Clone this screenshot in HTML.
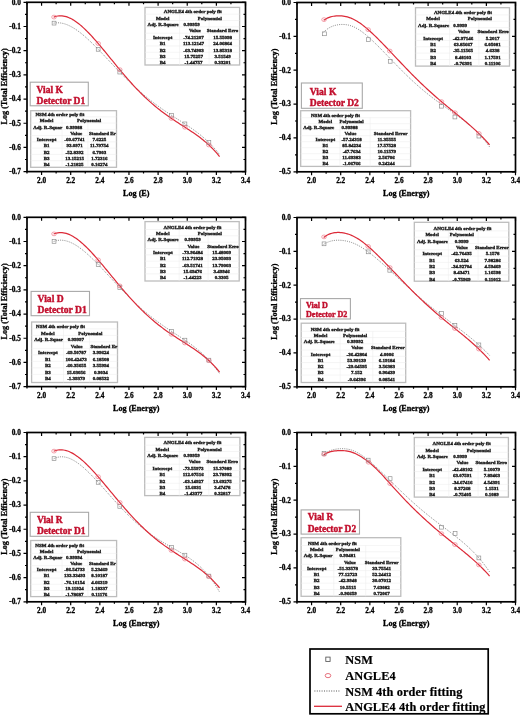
<!DOCTYPE html>
<html><head><meta charset="utf-8"><style>html,body{margin:0;padding:0;background:#fff;}svg{display:block;filter:blur(0.3px);}</style></head>
<body><svg width="520" height="715" viewBox="0 0 520 715" font-family="'Liberation Serif', 'Times New Roman', serif" font-weight="bold">
<rect width="520" height="715" fill="#fff"/>
<text x="136.25" y="196.10" font-size="8.2" text-anchor="middle" stroke="#000" stroke-width="0.3">Log (E)</text>
<text transform="translate(7.10,86.45) rotate(-90)" x="0" y="0" font-size="8.2" text-anchor="middle" stroke="#000" stroke-width="0.3">Log (Total Efficiency)</text>
<g font-size="7.3" stroke="#000" stroke-width="0.28"><text x="41.57" y="182.50" text-anchor="middle">2.0</text><text x="70.70" y="182.50" text-anchor="middle">2.2</text><text x="99.83" y="182.50" text-anchor="middle">2.4</text><text x="128.97" y="182.50" text-anchor="middle">2.6</text><text x="158.10" y="182.50" text-anchor="middle">2.8</text><text x="187.23" y="182.50" text-anchor="middle">3.0</text><text x="216.37" y="182.50" text-anchor="middle">3.2</text><text x="245.50" y="182.50" text-anchor="middle">3.4</text><text x="20.80" y="4.70" text-anchor="end">0.0</text><text x="20.80" y="28.89" text-anchor="end">-0.1</text><text x="20.80" y="53.07" text-anchor="end">-0.2</text><text x="20.80" y="77.26" text-anchor="end">-0.3</text><text x="20.80" y="101.44" text-anchor="end">-0.4</text><text x="20.80" y="125.63" text-anchor="end">-0.5</text><text x="20.80" y="149.81" text-anchor="end">-0.6</text><text x="20.80" y="174.00" text-anchor="end">-0.7</text></g>
<path d="M27.00,171.60v2M27.00,2.30v2M41.57,171.60v3.5M41.57,2.30v3.5M56.13,171.60v2M56.13,2.30v2M70.70,171.60v3.5M70.70,2.30v3.5M85.27,171.60v2M85.27,2.30v2M99.83,171.60v3.5M99.83,2.30v3.5M114.40,171.60v2M114.40,2.30v2M128.97,171.60v3.5M128.97,2.30v3.5M143.53,171.60v2M143.53,2.30v2M158.10,171.60v3.5M158.10,2.30v3.5M172.67,171.60v2M172.67,2.30v2M187.23,171.60v3.5M187.23,2.30v3.5M201.80,171.60v2M201.80,2.30v2M216.37,171.60v3.5M216.37,2.30v3.5M230.93,171.60v2M230.93,2.30v2M245.50,171.60v3.5M245.50,2.30v3.5M27.00,2.30h-3.5M245.50,2.30h-3.5M27.00,14.39h-2M245.50,14.39h-2M27.00,26.49h-3.5M245.50,26.49h-3.5M27.00,38.58h-2M245.50,38.58h-2M27.00,50.67h-3.5M245.50,50.67h-3.5M27.00,62.76h-2M245.50,62.76h-2M27.00,74.86h-3.5M245.50,74.86h-3.5M27.00,86.95h-2M245.50,86.95h-2M27.00,99.04h-3.5M245.50,99.04h-3.5M27.00,111.14h-2M245.50,111.14h-2M27.00,123.23h-3.5M245.50,123.23h-3.5M27.00,135.32h-2M245.50,135.32h-2M27.00,147.41h-3.5M245.50,147.41h-3.5M27.00,159.51h-2M245.50,159.51h-2M27.00,171.60h-3.5M245.50,171.60h-3.5" stroke="#000" stroke-width="1.2" fill="none"/>
<polyline points="53.66,23.20 55.05,22.96 56.45,22.83 57.84,22.79 59.23,22.84 60.63,22.99 62.02,23.22 63.42,23.54 64.81,23.93 66.21,24.40 67.60,24.95 68.99,25.56 70.39,26.24 71.78,26.99 73.18,27.79 74.57,28.65 75.96,29.57 77.36,30.53 78.75,31.55 80.15,32.61 81.54,33.71 82.94,34.86 84.33,36.04 85.72,37.26 87.12,38.51 88.51,39.79 89.91,41.10 91.30,42.43 92.70,43.79 94.09,45.17 95.48,46.56 96.88,47.98 98.27,49.41 99.67,50.85 101.06,52.30 102.46,53.77 103.85,55.24 105.24,56.71 106.64,58.19 108.03,59.68 109.43,61.16 110.82,62.64 112.22,64.13 113.61,65.61 115.00,67.08 116.40,68.55 117.79,70.01 119.19,71.46 120.58,72.91 121.97,74.34 123.37,75.77 124.76,77.18 126.16,78.58 127.55,79.96 128.95,81.33 130.34,82.69 131.73,84.03 133.13,85.35 134.52,86.66 135.92,87.95 137.31,89.23 138.71,90.48 140.10,91.72 141.49,92.94 142.89,94.15 144.28,95.33 145.68,96.50 147.07,97.65 148.47,98.78 149.86,99.90 151.25,100.99 152.65,102.07 154.04,103.13 155.44,104.18 156.83,105.21 158.22,106.23 159.62,107.23 161.01,108.21 162.41,109.19 163.80,110.15 165.20,111.10 166.59,112.04 167.98,112.96 169.38,113.88 170.77,114.80 172.17,115.70 173.56,116.60 174.96,117.50 176.35,118.39 177.74,119.28 179.14,120.17 180.53,121.07 181.93,121.96 183.32,122.86 184.72,123.77 186.11,124.69 187.50,125.61 188.90,126.55 190.29,127.50 191.69,128.47 193.08,129.45 194.48,130.45 195.87,131.48 197.26,132.53 198.66,133.60 200.05,134.71 201.45,135.84 202.84,137.01 204.23,138.21 205.63,139.46 207.02,140.74 208.42,142.07 209.81,143.44 211.21,144.86 212.60,146.34 213.99,147.87 215.39,149.46 216.78,151.11 218.18,152.82 219.57,154.61" fill="none" stroke="#555" stroke-width="0.7" stroke-dasharray="1,1.2"/>
<polyline points="53.66,17.21 55.05,16.68 56.45,16.28 57.84,16.01 59.23,15.85 60.63,15.80 62.02,15.87 63.42,16.04 64.81,16.31 66.21,16.69 67.60,17.15 68.99,17.70 70.39,18.34 71.78,19.06 73.18,19.86 74.57,20.73 75.96,21.68 77.36,22.69 78.75,23.76 80.15,24.89 81.54,26.08 82.94,27.32 84.33,28.61 85.72,29.95 87.12,31.33 88.51,32.75 89.91,34.21 91.30,35.70 92.70,37.23 94.09,38.78 95.48,40.36 96.88,41.96 98.27,43.59 99.67,45.23 101.06,46.89 102.46,48.56 103.85,50.25 105.24,51.94 106.64,53.64 108.03,55.35 109.43,57.06 110.82,58.77 112.22,60.48 113.61,62.19 115.00,63.90 116.40,65.59 117.79,67.29 119.19,68.97 120.58,70.64 121.97,72.30 123.37,73.95 124.76,75.59 126.16,77.21 127.55,78.81 128.95,80.40 130.34,81.96 131.73,83.51 133.13,85.04 134.52,86.55 135.92,88.04 137.31,89.51 138.71,90.95 140.10,92.37 141.49,93.77 142.89,95.15 144.28,96.50 145.68,97.83 147.07,99.14 148.47,100.42 149.86,101.68 151.25,102.91 152.65,104.12 154.04,105.31 155.44,106.48 156.83,107.62 158.22,108.74 159.62,109.84 161.01,110.92 162.41,111.98 163.80,113.02 165.20,114.05 166.59,115.05 167.98,116.04 169.38,117.02 170.77,117.98 172.17,118.92 173.56,119.86 174.96,120.78 176.35,121.70 177.74,122.61 179.14,123.51 180.53,124.41 181.93,125.31 183.32,126.20 184.72,127.10 186.11,127.99 187.50,128.90 188.90,129.81 190.29,130.73 191.69,131.66 193.08,132.60 194.48,133.56 195.87,134.53 197.26,135.53 198.66,136.55 200.05,137.60 201.45,138.67 202.84,139.78 204.23,140.92 205.63,142.10 207.02,143.31 208.42,144.57 209.81,145.87 211.21,147.23 212.60,148.63 213.99,150.10 215.39,151.62 216.78,153.20 218.18,154.85 219.57,156.57" fill="none" stroke="#dc2a38" stroke-width="1.2"/>
<rect x="52.14" y="21.22" width="3.8" height="3.8" fill="none" stroke="#8a8a8a" stroke-width="0.65"/>
<ellipse cx="54.04" cy="17.06" rx="2.3" ry="1.9" fill="none" stroke="#ec7080" stroke-width="0.65"/>
<rect x="96.27" y="47.40" width="3.8" height="3.8" fill="none" stroke="#8a8a8a" stroke-width="0.65"/>
<ellipse cx="98.17" cy="43.47" rx="2.3" ry="1.9" fill="none" stroke="#ec7080" stroke-width="0.65"/>
<rect x="117.88" y="70.17" width="3.8" height="3.8" fill="none" stroke="#8a8a8a" stroke-width="0.65"/>
<ellipse cx="119.78" cy="69.68" rx="2.3" ry="1.9" fill="none" stroke="#ec7080" stroke-width="0.65"/>
<rect x="169.53" y="113.32" width="3.8" height="3.8" fill="none" stroke="#8a8a8a" stroke-width="0.65"/>
<ellipse cx="171.43" cy="118.42" rx="2.3" ry="1.9" fill="none" stroke="#ec7080" stroke-width="0.65"/>
<rect x="183.02" y="122.00" width="3.8" height="3.8" fill="none" stroke="#8a8a8a" stroke-width="0.65"/>
<ellipse cx="184.92" cy="127.23" rx="2.3" ry="1.9" fill="none" stroke="#ec7080" stroke-width="0.65"/>
<rect x="206.98" y="140.62" width="3.8" height="3.8" fill="none" stroke="#8a8a8a" stroke-width="0.65"/>
<ellipse cx="208.88" cy="145.00" rx="2.3" ry="1.9" fill="none" stroke="#ec7080" stroke-width="0.65"/>
<rect x="27.00" y="2.30" width="218.50" height="169.30" fill="none" stroke="#000" stroke-width="1.7"/>
<g font-size="5.0" fill="#1c1c1c" stroke="#1c1c1c" stroke-width="0.36"><rect stroke-opacity="1" x="145.00" y="7.40" width="94.60" height="57.60" fill="#fff" stroke="#bdbdbd" stroke-width="1.3"/><path d="M145.00,14.18H239.60M145.00,20.52H239.60M145.00,26.87H239.60M145.00,33.23H239.60M145.00,39.58H239.60M145.00,45.92H239.60M145.00,52.27H239.60M145.00,58.62H239.60M179.60,14.18V65.00M209.10,20.52V65.00" stroke="#ececec" stroke-width="0.55" fill="none"/><text x="192.80" y="13.40" text-anchor="middle">ANGLE4 4th order poly fit</text><text x="162.70" y="19.75" text-anchor="middle">Model</text><text x="209.80" y="19.75" text-anchor="middle">Polynomial</text><text x="147.60" y="26.10" text-anchor="start">Adj. R-Square</text><text x="183.40" y="26.10" text-anchor="start">0.99959</text><text x="195.00" y="32.45" text-anchor="middle">Value</text><text x="206.80" y="32.45" text-anchor="start">Standard Erro</text><text x="162.70" y="38.80" text-anchor="middle">Intercept</text><text x="193.50" y="38.80" text-anchor="middle">-74.21207</text><text x="222.70" y="38.80" text-anchor="middle">15.55098</text><text x="162.70" y="45.15" text-anchor="middle">B1</text><text x="193.50" y="45.15" text-anchor="middle">113.12147</text><text x="222.70" y="45.15" text-anchor="middle">24.06864</text><text x="162.70" y="51.50" text-anchor="middle">B2</text><text x="193.50" y="51.50" text-anchor="middle">-63.74903</text><text x="222.70" y="51.50" text-anchor="middle">13.85318</text><text x="162.70" y="57.85" text-anchor="middle">B3</text><text x="193.50" y="57.85" text-anchor="middle">15.75257</text><text x="222.70" y="57.85" text-anchor="middle">3.51549</text><text x="162.70" y="64.20" text-anchor="middle">B4</text><text x="193.50" y="64.20" text-anchor="middle">-1.44757</text><text x="222.70" y="64.20" text-anchor="middle">0.33201</text></g>
<g font-size="5.0" fill="#1c1c1c" stroke="#1c1c1c" stroke-width="0.36"><rect stroke-opacity="1" x="30.70" y="110.70" width="85.80" height="56.60" fill="#fff" stroke="#bdbdbd" stroke-width="1.3"/><path d="M30.70,116.83H116.50M30.70,123.09H116.50M30.70,129.35H116.50M30.70,135.61H116.50M30.70,141.87H116.50M30.70,148.13H116.50M30.70,154.39H116.50M30.70,160.65H116.50M62.05,116.83V167.30M87.90,123.09V167.30" stroke="#ececec" stroke-width="0.55" fill="none"/><text x="59.90" y="116.10" text-anchor="middle">NSM 4th order poly fit</text><text x="46.60" y="122.36" text-anchor="middle">Model</text><text x="89.10" y="122.36" text-anchor="middle">Polynomial</text><text x="33.30" y="128.62" text-anchor="start">Adj. R-Squar</text><text x="66.00" y="128.62" text-anchor="start">0.99988</text><text x="76.20" y="134.88" text-anchor="middle">Value</text><text x="89.00" y="134.88" text-anchor="start">Standard Er</text><text x="46.60" y="141.14" text-anchor="middle">Intercept</text><text x="74.50" y="141.14" text-anchor="middle">-60.67741</text><text x="99.30" y="141.14" text-anchor="middle">7.6225</text><text x="46.60" y="147.40" text-anchor="middle">B1</text><text x="74.50" y="147.40" text-anchor="middle">93.0971</text><text x="99.30" y="147.40" text-anchor="middle">11.79754</text><text x="46.60" y="153.66" text-anchor="middle">B2</text><text x="74.50" y="153.66" text-anchor="middle">-52.8392</text><text x="99.30" y="153.66" text-anchor="middle">6.7903</text><text x="46.60" y="159.92" text-anchor="middle">B3</text><text x="74.50" y="159.92" text-anchor="middle">13.15215</text><text x="99.30" y="159.92" text-anchor="middle">1.72316</text><text x="46.60" y="166.18" text-anchor="middle">B4</text><text x="74.50" y="166.18" text-anchor="middle">-1.21825</text><text x="99.30" y="166.18" text-anchor="middle">0.16274</text></g>
<rect x="30.20" y="82.20" width="58.10" height="23.60" fill="#fff" stroke="#a8a8a8" stroke-width="1.1"/>
<g font-size="9.5" fill="#c2102e" stroke="#c2102e" stroke-width="0.4"><text x="36.60" y="92.90">Vial K</text><text x="36.60" y="104.00">Detector D1</text></g>
<text x="406.25" y="196.30" font-size="8.2" text-anchor="middle" stroke="#000" stroke-width="0.3">Log (Energy)</text>
<text transform="translate(277.10,86.65) rotate(-90)" x="0" y="0" font-size="8.2" text-anchor="middle" stroke="#000" stroke-width="0.3">Log (Total Efficiency)</text>
<g font-size="7.3" stroke="#000" stroke-width="0.28"><text x="311.57" y="182.70" text-anchor="middle">2.0</text><text x="340.70" y="182.70" text-anchor="middle">2.2</text><text x="369.83" y="182.70" text-anchor="middle">2.4</text><text x="398.97" y="182.70" text-anchor="middle">2.6</text><text x="428.10" y="182.70" text-anchor="middle">2.8</text><text x="457.23" y="182.70" text-anchor="middle">3.0</text><text x="486.37" y="182.70" text-anchor="middle">3.2</text><text x="515.50" y="182.70" text-anchor="middle">3.4</text><text x="290.80" y="4.90" text-anchor="end">0.0</text><text x="290.80" y="38.76" text-anchor="end">-0.1</text><text x="290.80" y="72.62" text-anchor="end">-0.2</text><text x="290.80" y="106.48" text-anchor="end">-0.3</text><text x="290.80" y="140.34" text-anchor="end">-0.4</text><text x="290.80" y="174.20" text-anchor="end">-0.5</text></g>
<path d="M297.00,171.80v2M297.00,2.50v2M311.57,171.80v3.5M311.57,2.50v3.5M326.13,171.80v2M326.13,2.50v2M340.70,171.80v3.5M340.70,2.50v3.5M355.27,171.80v2M355.27,2.50v2M369.83,171.80v3.5M369.83,2.50v3.5M384.40,171.80v2M384.40,2.50v2M398.97,171.80v3.5M398.97,2.50v3.5M413.53,171.80v2M413.53,2.50v2M428.10,171.80v3.5M428.10,2.50v3.5M442.67,171.80v2M442.67,2.50v2M457.23,171.80v3.5M457.23,2.50v3.5M471.80,171.80v2M471.80,2.50v2M486.37,171.80v3.5M486.37,2.50v3.5M500.93,171.80v2M500.93,2.50v2M515.50,171.80v3.5M515.50,2.50v3.5M297.00,2.50h-3.5M515.50,2.50h-3.5M297.00,19.43h-2M515.50,19.43h-2M297.00,36.36h-3.5M515.50,36.36h-3.5M297.00,53.29h-2M515.50,53.29h-2M297.00,70.22h-3.5M515.50,70.22h-3.5M297.00,87.15h-2M515.50,87.15h-2M297.00,104.08h-3.5M515.50,104.08h-3.5M297.00,121.01h-2M515.50,121.01h-2M297.00,137.94h-3.5M515.50,137.94h-3.5M297.00,154.87h-2M515.50,154.87h-2M297.00,171.80h-3.5M515.50,171.80h-3.5" stroke="#000" stroke-width="1.2" fill="none"/>
<polyline points="323.66,32.19 325.05,30.86 326.45,29.69 327.84,28.67 329.23,27.80 330.63,27.05 332.02,26.42 333.42,25.89 334.81,25.46 336.21,25.11 337.60,24.85 338.99,24.65 340.39,24.52 341.78,24.46 343.18,24.46 344.57,24.53 345.96,24.67 347.36,24.88 348.75,25.17 350.15,25.55 351.54,26.00 352.94,26.53 354.33,27.14 355.72,27.83 357.12,28.60 358.51,29.44 359.91,30.34 361.30,31.31 362.70,32.33 364.09,33.40 365.48,34.52 366.88,35.69 368.27,36.89 369.67,38.13 371.06,39.40 372.46,40.70 373.85,42.02 375.24,43.37 376.64,44.73 378.03,46.12 379.43,47.52 380.82,48.93 382.22,50.35 383.61,51.78 385.00,53.22 386.40,54.67 387.79,56.11 389.19,57.56 390.58,59.01 391.97,60.46 393.37,61.91 394.76,63.35 396.16,64.78 397.55,66.21 398.95,67.63 400.34,69.05 401.73,70.45 403.13,71.84 404.52,73.22 405.92,74.59 407.31,75.94 408.71,77.28 410.10,78.61 411.49,79.92 412.89,81.21 414.28,82.49 415.68,83.76 417.07,85.00 418.47,86.23 419.86,87.45 421.25,88.65 422.65,89.83 424.04,90.99 425.44,92.14 426.83,93.27 428.22,94.39 429.62,95.49 431.01,96.58 432.41,97.66 433.80,98.72 435.20,99.77 436.59,100.80 437.98,101.83 439.38,102.84 440.77,103.85 442.17,104.85 443.56,105.84 444.96,106.83 446.35,107.82 447.74,108.80 449.14,109.78 450.53,110.76 451.93,111.74 453.32,112.73 454.72,113.72 456.11,114.72 457.50,115.72 458.90,116.74 460.29,117.78 461.69,118.82 463.08,119.89 464.48,120.97 465.87,122.08 467.26,123.21 468.66,124.37 470.05,125.55 471.45,126.77 472.84,128.03 474.23,129.32 475.63,130.65 477.02,132.03 478.42,133.45 479.81,134.92 481.21,136.45 482.60,138.02 483.99,139.66 485.39,141.36 486.78,143.13 488.18,144.97 489.57,146.88" fill="none" stroke="#555" stroke-width="0.7" stroke-dasharray="1,1.2"/>
<polyline points="323.66,20.33 325.05,19.39 326.45,18.58 327.84,17.89 329.23,17.32 330.63,16.86 332.02,16.50 333.42,16.23 334.81,16.03 336.21,15.90 337.60,15.84 338.99,15.82 340.39,15.87 341.78,15.96 343.18,16.11 344.57,16.32 345.96,16.59 347.36,16.92 348.75,17.33 350.15,17.81 351.54,18.36 352.94,18.98 354.33,19.67 355.72,20.43 357.12,21.26 358.51,22.15 359.91,23.10 361.30,24.10 362.70,25.14 364.09,26.24 365.48,27.37 366.88,28.54 368.27,29.74 369.67,30.98 371.06,32.24 372.46,33.53 373.85,34.85 375.24,36.19 376.64,37.55 378.03,38.93 379.43,40.32 380.82,41.73 382.22,43.16 383.61,44.59 385.00,46.04 386.40,47.50 387.79,48.96 389.19,50.43 390.58,51.90 391.97,53.38 393.37,54.86 394.76,56.34 396.16,57.82 397.55,59.30 398.95,60.78 400.34,62.25 401.73,63.72 403.13,65.19 404.52,66.65 405.92,68.10 407.31,69.54 408.71,70.98 410.10,72.41 411.49,73.83 412.89,75.24 414.28,76.64 415.68,78.03 417.07,79.40 418.47,80.77 419.86,82.13 421.25,83.47 422.65,84.80 424.04,86.12 425.44,87.43 426.83,88.72 428.22,90.01 429.62,91.28 431.01,92.54 432.41,93.79 433.80,95.02 435.20,96.25 436.59,97.47 437.98,98.67 439.38,99.87 440.77,101.06 442.17,102.24 443.56,103.41 444.96,104.57 446.35,105.73 447.74,106.88 449.14,108.03 450.53,109.17 451.93,110.31 453.32,111.45 454.72,112.59 456.11,113.73 457.50,114.87 458.90,116.01 460.29,117.15 461.69,118.30 463.08,119.46 464.48,120.63 465.87,121.80 467.26,122.99 468.66,124.18 470.05,125.40 471.45,126.62 472.84,127.87 474.23,129.13 475.63,130.42 477.02,131.73 478.42,133.06 479.81,134.42 481.21,135.81 482.60,137.23 483.99,138.69 485.39,140.17 486.78,141.70 488.18,143.27 489.57,144.88" fill="none" stroke="#dc2a38" stroke-width="1.2"/>
<rect x="322.60" y="31.90" width="3.8" height="3.8" fill="none" stroke="#8a8a8a" stroke-width="0.65"/>
<ellipse cx="324.04" cy="19.64" rx="2.3" ry="1.9" fill="none" stroke="#ec7080" stroke-width="0.65"/>
<rect x="366.40" y="37.70" width="3.8" height="3.8" fill="none" stroke="#8a8a8a" stroke-width="0.65"/>
<ellipse cx="368.17" cy="29.65" rx="2.3" ry="1.9" fill="none" stroke="#ec7080" stroke-width="0.65"/>
<rect x="388.30" y="59.40" width="3.8" height="3.8" fill="none" stroke="#8a8a8a" stroke-width="0.65"/>
<ellipse cx="389.78" cy="51.05" rx="2.3" ry="1.9" fill="none" stroke="#ec7080" stroke-width="0.65"/>
<rect x="439.60" y="104.30" width="3.8" height="3.8" fill="none" stroke="#8a8a8a" stroke-width="0.65"/>
<ellipse cx="441.43" cy="101.61" rx="2.3" ry="1.9" fill="none" stroke="#ec7080" stroke-width="0.65"/>
<rect x="453.00" y="115.10" width="3.8" height="3.8" fill="none" stroke="#8a8a8a" stroke-width="0.65"/>
<ellipse cx="454.92" cy="112.75" rx="2.3" ry="1.9" fill="none" stroke="#ec7080" stroke-width="0.65"/>
<rect x="477.00" y="134.20" width="3.8" height="3.8" fill="none" stroke="#8a8a8a" stroke-width="0.65"/>
<ellipse cx="478.88" cy="133.51" rx="2.3" ry="1.9" fill="none" stroke="#ec7080" stroke-width="0.65"/>
<rect x="297.00" y="2.50" width="218.50" height="169.30" fill="none" stroke="#000" stroke-width="1.7"/>
<g font-size="5.0" fill="#1c1c1c" stroke="#1c1c1c" stroke-width="0.36"><rect stroke-opacity="1" x="415.50" y="7.70" width="94.00" height="58.40" fill="#fff" stroke="#bdbdbd" stroke-width="1.3"/><path d="M415.50,14.89H509.50M415.50,21.26H509.50M415.50,27.64H509.50M415.50,34.01H509.50M415.50,40.39H509.50M415.50,46.76H509.50M415.50,53.14H509.50M415.50,59.51H509.50M449.55,14.89V66.10M478.85,21.26V66.10" stroke="#ececec" stroke-width="0.55" fill="none"/><text x="462.90" y="14.10" text-anchor="middle">ANGLE4 4th order poly fit</text><text x="433.10" y="20.47" text-anchor="middle">Model</text><text x="479.80" y="20.47" text-anchor="middle">Polynomial</text><text x="418.10" y="26.85" text-anchor="start">Adj. R-Square</text><text x="453.30" y="26.85" text-anchor="start">0.9999</text><text x="463.90" y="33.23" text-anchor="middle">Value</text><text x="477.40" y="33.23" text-anchor="start">Standard Erro</text><text x="433.10" y="39.60" text-anchor="middle">Intercept</text><text x="463.00" y="39.60" text-anchor="middle">-42.97146</text><text x="492.70" y="39.60" text-anchor="middle">5.2017</text><text x="433.10" y="45.98" text-anchor="middle">B1</text><text x="463.00" y="45.98" text-anchor="middle">63.85667</text><text x="492.70" y="45.98" text-anchor="middle">6.05081</text><text x="433.10" y="52.35" text-anchor="middle">B2</text><text x="463.00" y="52.35" text-anchor="middle">-35.11565</text><text x="492.70" y="52.35" text-anchor="middle">4.6338</text><text x="433.10" y="58.73" text-anchor="middle">B3</text><text x="463.00" y="58.73" text-anchor="middle">8.48103</text><text x="492.70" y="58.73" text-anchor="middle">1.17591</text><text x="433.10" y="65.10" text-anchor="middle">B4</text><text x="463.00" y="65.10" text-anchor="middle">-0.76391</text><text x="492.70" y="65.10" text-anchor="middle">0.11106</text></g>
<g font-size="5.0" fill="#1c1c1c" stroke="#1c1c1c" stroke-width="0.36"><rect stroke-opacity="1" x="300.70" y="110.70" width="109.90" height="55.70" fill="#fff" stroke="#bdbdbd" stroke-width="1.3"/><path d="M300.70,117.70H410.60M300.70,123.70H410.60M300.70,129.70H410.60M300.70,135.70H410.60M300.70,141.70H410.60M300.70,147.70H410.60M300.70,153.70H410.60M300.70,159.70H410.60M339.95,117.70V166.40M370.15,117.70V166.40" stroke="#ececec" stroke-width="0.55" fill="none"/><text x="335.40" y="117.10" text-anchor="middle">NSM 4th order poly fit</text><text x="325.30" y="123.10" text-anchor="middle">Model</text><text x="351.60" y="123.10" text-anchor="middle">Polynomial</text><text x="303.30" y="129.10" text-anchor="start">Adj. R-Square</text><text x="341.50" y="129.10" text-anchor="start">0.99988</text><text x="350.40" y="135.10" text-anchor="middle">Value</text><text x="390.60" y="135.10" text-anchor="middle">Standard Error</text><text x="325.30" y="141.10" text-anchor="middle">Intercept</text><text x="351.60" y="141.10" text-anchor="middle">-57.24318</text><text x="386.70" y="141.10" text-anchor="middle">11.35555</text><text x="325.30" y="147.10" text-anchor="middle">B1</text><text x="351.60" y="147.10" text-anchor="middle">85.84234</text><text x="386.70" y="147.10" text-anchor="middle">17.57528</text><text x="325.30" y="153.10" text-anchor="middle">B2</text><text x="351.60" y="153.10" text-anchor="middle">-47.7634</text><text x="386.70" y="153.10" text-anchor="middle">10.11579</text><text x="325.30" y="159.10" text-anchor="middle">B3</text><text x="351.60" y="159.10" text-anchor="middle">11.69383</text><text x="386.70" y="159.10" text-anchor="middle">2.56706</text><text x="325.30" y="165.10" text-anchor="middle">B4</text><text x="351.60" y="165.10" text-anchor="middle">-1.06766</text><text x="386.70" y="165.10" text-anchor="middle">0.24244</text></g>
<rect x="301.40" y="83.00" width="60.90" height="25.30" fill="#fff" stroke="#a8a8a8" stroke-width="1.1"/>
<g font-size="9.6" fill="#c2102e" stroke="#c2102e" stroke-width="0.4"><text x="309.80" y="94.50">Vial K</text><text x="309.80" y="106.20">Detector D2</text></g>
<text x="136.25" y="411.10" font-size="8.2" text-anchor="middle" stroke="#000" stroke-width="0.3">Log (Energy)</text>
<text transform="translate(7.10,301.45) rotate(-90)" x="0" y="0" font-size="8.2" text-anchor="middle" stroke="#000" stroke-width="0.3">Log (Total Efficiency)</text>
<g font-size="7.3" stroke="#000" stroke-width="0.28"><text x="41.57" y="397.50" text-anchor="middle">2.0</text><text x="70.70" y="397.50" text-anchor="middle">2.2</text><text x="99.83" y="397.50" text-anchor="middle">2.4</text><text x="128.97" y="397.50" text-anchor="middle">2.6</text><text x="158.10" y="397.50" text-anchor="middle">2.8</text><text x="187.23" y="397.50" text-anchor="middle">3.0</text><text x="216.37" y="397.50" text-anchor="middle">3.2</text><text x="245.50" y="397.50" text-anchor="middle">3.4</text><text x="20.80" y="219.70" text-anchor="end">0.0</text><text x="20.80" y="243.89" text-anchor="end">-0.1</text><text x="20.80" y="268.07" text-anchor="end">-0.2</text><text x="20.80" y="292.26" text-anchor="end">-0.3</text><text x="20.80" y="316.44" text-anchor="end">-0.4</text><text x="20.80" y="340.63" text-anchor="end">-0.5</text><text x="20.80" y="364.81" text-anchor="end">-0.6</text><text x="20.80" y="389.00" text-anchor="end">-0.7</text></g>
<path d="M27.00,386.60v2M27.00,217.30v2M41.57,386.60v3.5M41.57,217.30v3.5M56.13,386.60v2M56.13,217.30v2M70.70,386.60v3.5M70.70,217.30v3.5M85.27,386.60v2M85.27,217.30v2M99.83,386.60v3.5M99.83,217.30v3.5M114.40,386.60v2M114.40,217.30v2M128.97,386.60v3.5M128.97,217.30v3.5M143.53,386.60v2M143.53,217.30v2M158.10,386.60v3.5M158.10,217.30v3.5M172.67,386.60v2M172.67,217.30v2M187.23,386.60v3.5M187.23,217.30v3.5M201.80,386.60v2M201.80,217.30v2M216.37,386.60v3.5M216.37,217.30v3.5M230.93,386.60v2M230.93,217.30v2M245.50,386.60v3.5M245.50,217.30v3.5M27.00,217.30h-3.5M245.50,217.30h-3.5M27.00,229.39h-2M245.50,229.39h-2M27.00,241.49h-3.5M245.50,241.49h-3.5M27.00,253.58h-2M245.50,253.58h-2M27.00,265.67h-3.5M245.50,265.67h-3.5M27.00,277.76h-2M245.50,277.76h-2M27.00,289.86h-3.5M245.50,289.86h-3.5M27.00,301.95h-2M245.50,301.95h-2M27.00,314.04h-3.5M245.50,314.04h-3.5M27.00,326.14h-2M245.50,326.14h-2M27.00,338.23h-3.5M245.50,338.23h-3.5M27.00,350.32h-2M245.50,350.32h-2M27.00,362.41h-3.5M245.50,362.41h-3.5M27.00,374.51h-2M245.50,374.51h-2M27.00,386.60h-3.5M245.50,386.60h-3.5" stroke="#000" stroke-width="1.2" fill="none"/>
<polyline points="53.66,241.53 55.05,241.03 56.45,240.65 57.84,240.39 59.23,240.23 60.63,240.17 62.02,240.22 63.42,240.36 64.81,240.59 66.21,240.90 67.60,241.31 68.99,241.79 70.39,242.35 71.78,242.98 73.18,243.68 74.57,244.45 75.96,245.28 77.36,246.17 78.75,247.12 80.15,248.12 81.54,249.17 82.94,250.26 84.33,251.40 85.72,252.59 87.12,253.81 88.51,255.06 89.91,256.35 91.30,257.67 92.70,259.01 94.09,260.39 95.48,261.78 96.88,263.19 98.27,264.63 99.67,266.08 101.06,267.54 102.46,269.01 103.85,270.50 105.24,271.99 106.64,273.49 108.03,274.99 109.43,276.49 110.82,278.00 112.22,279.50 113.61,281.00 115.00,282.50 116.40,283.99 117.79,285.48 119.19,286.96 120.58,288.43 121.97,289.88 123.37,291.33 124.76,292.77 126.16,294.19 127.55,295.60 128.95,296.99 130.34,298.37 131.73,299.73 133.13,301.08 134.52,302.41 135.92,303.72 137.31,305.01 138.71,306.28 140.10,307.54 141.49,308.77 142.89,309.99 144.28,311.19 145.68,312.37 147.07,313.53 148.47,314.67 149.86,315.80 151.25,316.90 152.65,317.99 154.04,319.06 155.44,320.12 156.83,321.16 158.22,322.18 159.62,323.19 161.01,324.18 162.41,325.16 163.80,326.13 165.20,327.09 166.59,328.03 167.98,328.97 169.38,329.90 170.77,330.82 172.17,331.74 173.56,332.65 174.96,333.57 176.35,334.48 177.74,335.39 179.14,336.30 180.53,337.22 181.93,338.14 183.32,339.07 184.72,340.01 186.11,340.96 187.50,341.92 188.90,342.90 190.29,343.90 191.69,344.92 193.08,345.96 194.48,347.03 195.87,348.12 197.26,349.25 198.66,350.40 200.05,351.60 201.45,352.83 202.84,354.10 204.23,355.41 205.63,356.77 207.02,358.18 208.42,359.65 209.81,361.17 211.21,362.75 212.60,364.39 213.99,366.09 215.39,367.87 216.78,369.72 218.18,371.64 219.57,373.65" fill="none" stroke="#555" stroke-width="0.7" stroke-dasharray="1,1.2"/>
<polyline points="53.66,234.03 55.05,233.49 56.45,233.08 57.84,232.80 59.23,232.63 60.63,232.58 62.02,232.63 63.42,232.79 64.81,233.06 66.21,233.42 67.60,233.87 68.99,234.41 70.39,235.04 71.78,235.75 73.18,236.54 74.57,237.40 75.96,238.33 77.36,239.33 78.75,240.39 80.15,241.50 81.54,242.68 82.94,243.91 84.33,245.19 85.72,246.51 87.12,247.88 88.51,249.29 89.91,250.73 91.30,252.21 92.70,253.72 94.09,255.26 95.48,256.83 96.88,258.42 98.27,260.03 99.67,261.66 101.06,263.30 102.46,264.96 103.85,266.63 105.24,268.32 106.64,270.00 108.03,271.70 109.43,273.39 110.82,275.09 112.22,276.79 113.61,278.48 115.00,280.17 116.40,281.86 117.79,283.54 119.19,285.21 120.58,286.87 121.97,288.52 123.37,290.15 124.76,291.77 126.16,293.38 127.55,294.97 128.95,296.55 130.34,298.10 131.73,299.64 133.13,301.16 134.52,302.65 135.92,304.13 137.31,305.59 138.71,307.02 140.10,308.43 141.49,309.82 142.89,311.18 144.28,312.53 145.68,313.84 147.07,315.14 148.47,316.41 149.86,317.66 151.25,318.88 152.65,320.08 154.04,321.26 155.44,322.42 156.83,323.55 158.22,324.67 159.62,325.76 161.01,326.83 162.41,327.88 163.80,328.91 165.20,329.93 166.59,330.92 167.98,331.90 169.38,332.87 170.77,333.82 172.17,334.76 173.56,335.69 174.96,336.60 176.35,337.51 177.74,338.41 179.14,339.31 180.53,340.20 181.93,341.08 183.32,341.97 184.72,342.86 186.11,343.75 187.50,344.64 188.90,345.54 190.29,346.46 191.69,347.38 193.08,348.31 194.48,349.26 195.87,350.23 197.26,351.22 198.66,352.24 200.05,353.27 201.45,354.34 202.84,355.44 204.23,356.57 205.63,357.74 207.02,358.94 208.42,360.19 209.81,361.49 211.21,362.84 212.60,364.23 213.99,365.68 215.39,367.20 216.78,368.77 218.18,370.41 219.57,372.12" fill="none" stroke="#dc2a38" stroke-width="1.2"/>
<rect x="52.14" y="239.48" width="3.8" height="3.8" fill="none" stroke="#8a8a8a" stroke-width="0.65"/>
<ellipse cx="54.04" cy="233.87" rx="2.3" ry="1.9" fill="none" stroke="#ec7080" stroke-width="0.65"/>
<rect x="96.27" y="262.62" width="3.8" height="3.8" fill="none" stroke="#8a8a8a" stroke-width="0.65"/>
<ellipse cx="98.17" cy="259.91" rx="2.3" ry="1.9" fill="none" stroke="#ec7080" stroke-width="0.65"/>
<rect x="117.88" y="285.68" width="3.8" height="3.8" fill="none" stroke="#8a8a8a" stroke-width="0.65"/>
<ellipse cx="119.78" cy="285.91" rx="2.3" ry="1.9" fill="none" stroke="#ec7080" stroke-width="0.65"/>
<rect x="169.53" y="329.36" width="3.8" height="3.8" fill="none" stroke="#8a8a8a" stroke-width="0.65"/>
<ellipse cx="171.43" cy="334.26" rx="2.3" ry="1.9" fill="none" stroke="#ec7080" stroke-width="0.65"/>
<rect x="183.02" y="338.24" width="3.8" height="3.8" fill="none" stroke="#8a8a8a" stroke-width="0.65"/>
<ellipse cx="184.92" cy="342.99" rx="2.3" ry="1.9" fill="none" stroke="#ec7080" stroke-width="0.65"/>
<rect x="206.98" y="358.24" width="3.8" height="3.8" fill="none" stroke="#8a8a8a" stroke-width="0.65"/>
<ellipse cx="208.88" cy="360.62" rx="2.3" ry="1.9" fill="none" stroke="#ec7080" stroke-width="0.65"/>
<rect x="27.00" y="217.30" width="218.50" height="169.30" fill="none" stroke="#000" stroke-width="1.7"/>
<g font-size="5.0" fill="#1c1c1c" stroke="#1c1c1c" stroke-width="0.36"><rect stroke-opacity="1" x="145.00" y="221.60" width="94.20" height="59.40" fill="#fff" stroke="#bdbdbd" stroke-width="1.3"/><path d="M145.00,229.47H239.20M145.00,235.81H239.20M145.00,242.15H239.20M145.00,248.49H239.20M145.00,254.83H239.20M145.00,261.17H239.20M145.00,267.51H239.20M145.00,273.85H239.20M179.15,229.47V281.00M208.10,235.81V281.00" stroke="#ececec" stroke-width="0.55" fill="none"/><text x="192.50" y="228.70" text-anchor="middle">ANGLE4 4th order poly fit</text><text x="162.80" y="235.04" text-anchor="middle">Model</text><text x="209.80" y="235.04" text-anchor="middle">Polynomial</text><text x="147.60" y="241.38" text-anchor="start">Adj. R-Square</text><text x="184.60" y="241.38" text-anchor="start">0.99959</text><text x="193.50" y="247.72" text-anchor="middle">Value</text><text x="207.30" y="247.72" text-anchor="start">Standard Erro</text><text x="162.80" y="254.06" text-anchor="middle">Intercept</text><text x="192.50" y="254.06" text-anchor="middle">-73.96484</text><text x="221.70" y="254.06" text-anchor="middle">15.48009</text><text x="162.80" y="260.40" text-anchor="middle">B1</text><text x="192.50" y="260.40" text-anchor="middle">112.71928</text><text x="221.70" y="260.40" text-anchor="middle">23.95093</text><text x="162.80" y="266.74" text-anchor="middle">B2</text><text x="192.50" y="266.74" text-anchor="middle">-63.51741</text><text x="221.70" y="266.74" text-anchor="middle">13.79003</text><text x="162.80" y="273.08" text-anchor="middle">B3</text><text x="192.50" y="273.08" text-anchor="middle">15.69476</text><text x="221.70" y="273.08" text-anchor="middle">3.49946</text><text x="162.80" y="279.42" text-anchor="middle">B4</text><text x="192.50" y="279.42" text-anchor="middle">-1.44223</text><text x="221.70" y="279.42" text-anchor="middle">0.3305</text></g>
<g font-size="5.0" fill="#1c1c1c" stroke="#1c1c1c" stroke-width="0.36"><rect stroke-opacity="1" x="31.60" y="322.00" width="85.90" height="60.50" fill="#fff" stroke="#bdbdbd" stroke-width="1.3"/><path d="M31.60,328.85H117.50M31.60,335.35H117.50M31.60,341.85H117.50M31.60,348.35H117.50M31.60,354.85H117.50M31.60,361.35H117.50M31.60,367.85H117.50M31.60,374.35H117.50M63.50,328.85V382.50M89.45,335.35V382.50" stroke="#ececec" stroke-width="0.55" fill="none"/><text x="60.50" y="328.00" text-anchor="middle">NSM 4th order poly fit</text><text x="47.90" y="334.50" text-anchor="middle">Model</text><text x="90.30" y="334.50" text-anchor="middle">Polynomial</text><text x="34.20" y="341.00" text-anchor="start">Adj. R-Squar</text><text x="67.80" y="341.00" text-anchor="start">0.99997</text><text x="76.80" y="347.50" text-anchor="middle">Value</text><text x="90.40" y="347.50" text-anchor="start">Standard Er</text><text x="47.90" y="354.00" text-anchor="middle">Intercept</text><text x="76.10" y="354.00" text-anchor="middle">-69.50787</text><text x="100.80" y="354.00" text-anchor="middle">3.99624</text><text x="47.90" y="360.50" text-anchor="middle">B1</text><text x="76.10" y="360.50" text-anchor="middle">106.42473</text><text x="100.80" y="360.50" text-anchor="middle">6.18508</text><text x="47.90" y="367.00" text-anchor="middle">B2</text><text x="76.10" y="367.00" text-anchor="middle">-60.35655</text><text x="100.80" y="367.00" text-anchor="middle">3.55994</text><text x="47.90" y="373.50" text-anchor="middle">B3</text><text x="76.10" y="373.50" text-anchor="middle">15.03056</text><text x="100.80" y="373.50" text-anchor="middle">0.9034</text><text x="47.90" y="380.00" text-anchor="middle">B4</text><text x="76.10" y="380.00" text-anchor="middle">-1.39379</text><text x="100.80" y="380.00" text-anchor="middle">0.08532</text></g>
<rect x="31.10" y="291.40" width="58.40" height="24.30" fill="#fff" stroke="#a8a8a8" stroke-width="1.1"/>
<g font-size="9.6" fill="#c2102e" stroke="#c2102e" stroke-width="0.4"><text x="37.60" y="301.80">Vial D</text><text x="37.60" y="313.20">Detector D1</text></g>
<text x="406.25" y="411.30" font-size="8.2" text-anchor="middle" stroke="#000" stroke-width="0.3">Log (Energy)</text>
<text transform="translate(277.10,301.65) rotate(-90)" x="0" y="0" font-size="8.2" text-anchor="middle" stroke="#000" stroke-width="0.3">Log (Total Efficiency)</text>
<g font-size="7.3" stroke="#000" stroke-width="0.28"><text x="311.57" y="397.70" text-anchor="middle">2.0</text><text x="340.70" y="397.70" text-anchor="middle">2.2</text><text x="369.83" y="397.70" text-anchor="middle">2.4</text><text x="398.97" y="397.70" text-anchor="middle">2.6</text><text x="428.10" y="397.70" text-anchor="middle">2.8</text><text x="457.23" y="397.70" text-anchor="middle">3.0</text><text x="486.37" y="397.70" text-anchor="middle">3.2</text><text x="515.50" y="397.70" text-anchor="middle">3.4</text><text x="290.80" y="219.90" text-anchor="end">0.0</text><text x="290.80" y="253.76" text-anchor="end">-0.1</text><text x="290.80" y="287.62" text-anchor="end">-0.2</text><text x="290.80" y="321.48" text-anchor="end">-0.3</text><text x="290.80" y="355.34" text-anchor="end">-0.4</text><text x="290.80" y="389.20" text-anchor="end">-0.5</text></g>
<path d="M297.00,386.80v2M297.00,217.50v2M311.57,386.80v3.5M311.57,217.50v3.5M326.13,386.80v2M326.13,217.50v2M340.70,386.80v3.5M340.70,217.50v3.5M355.27,386.80v2M355.27,217.50v2M369.83,386.80v3.5M369.83,217.50v3.5M384.40,386.80v2M384.40,217.50v2M398.97,386.80v3.5M398.97,217.50v3.5M413.53,386.80v2M413.53,217.50v2M428.10,386.80v3.5M428.10,217.50v3.5M442.67,386.80v2M442.67,217.50v2M457.23,386.80v3.5M457.23,217.50v3.5M471.80,386.80v2M471.80,217.50v2M486.37,386.80v3.5M486.37,217.50v3.5M500.93,386.80v2M500.93,217.50v2M515.50,386.80v3.5M515.50,217.50v3.5M297.00,217.50h-3.5M515.50,217.50h-3.5M297.00,234.43h-2M515.50,234.43h-2M297.00,251.36h-3.5M515.50,251.36h-3.5M297.00,268.29h-2M515.50,268.29h-2M297.00,285.22h-3.5M515.50,285.22h-3.5M297.00,302.15h-2M515.50,302.15h-2M297.00,319.08h-3.5M515.50,319.08h-3.5M297.00,336.01h-2M515.50,336.01h-2M297.00,352.94h-3.5M515.50,352.94h-3.5M297.00,369.87h-2M515.50,369.87h-2M297.00,386.80h-3.5M515.50,386.80h-3.5" stroke="#000" stroke-width="1.2" fill="none"/>
<polyline points="323.66,244.38 325.05,243.52 326.45,242.78 327.84,242.15 329.23,241.62 330.63,241.18 332.02,240.83 333.42,240.57 334.81,240.38 336.21,240.26 337.60,240.21 338.99,240.21 340.39,240.26 341.78,240.36 343.18,240.52 344.57,240.72 345.96,240.97 347.36,241.27 348.75,241.62 350.15,242.02 351.54,242.48 352.94,242.99 354.33,243.56 355.72,244.19 357.12,244.86 358.51,245.59 359.91,246.37 361.30,247.20 362.70,248.07 364.09,248.99 365.48,249.94 366.88,250.93 368.27,251.95 369.67,253.00 371.06,254.08 372.46,255.18 373.85,256.30 375.24,257.45 376.64,258.62 378.03,259.80 379.43,261.00 380.82,262.22 382.22,263.44 383.61,264.68 385.00,265.93 386.40,267.19 387.79,268.46 389.19,269.73 390.58,271.01 391.97,272.29 393.37,273.58 394.76,274.87 396.16,276.16 397.55,277.45 398.95,278.74 400.34,280.03 401.73,281.32 403.13,282.60 404.52,283.88 405.92,285.16 407.31,286.43 408.71,287.70 410.10,288.96 411.49,290.21 412.89,291.46 414.28,292.70 415.68,293.93 417.07,295.16 418.47,296.37 419.86,297.58 421.25,298.78 422.65,299.97 424.04,301.15 425.44,302.33 426.83,303.49 428.22,304.65 429.62,305.80 431.01,306.94 432.41,308.07 433.80,309.19 435.20,310.31 436.59,311.41 437.98,312.51 439.38,313.61 440.77,314.70 442.17,315.78 443.56,316.85 444.96,317.93 446.35,318.99 447.74,320.06 449.14,321.12 450.53,322.18 451.93,323.24 453.32,324.29 454.72,325.35 456.11,326.41 457.50,327.47 458.90,328.54 460.29,329.61 461.69,330.68 463.08,331.77 464.48,332.86 465.87,333.96 467.26,335.07 468.66,336.19 470.05,337.32 471.45,338.47 472.84,339.64 474.23,340.82 475.63,342.02 477.02,343.24 478.42,344.49 479.81,345.75 481.21,347.05 482.60,348.37 483.99,349.72 485.39,351.10 486.78,352.51 488.18,353.96 489.57,355.45" fill="none" stroke="#555" stroke-width="0.7" stroke-dasharray="1,1.2"/>
<polyline points="323.66,237.44 325.05,236.44 326.45,235.56 327.84,234.81 329.23,234.17 330.63,233.65 332.02,233.23 333.42,232.91 334.81,232.68 336.21,232.53 337.60,232.46 338.99,232.46 340.39,232.53 341.78,232.67 343.18,232.87 344.57,233.13 345.96,233.46 347.36,233.84 348.75,234.29 350.15,234.79 351.54,235.36 352.94,236.00 354.33,236.69 355.72,237.44 357.12,238.25 358.51,239.12 359.91,240.05 361.30,241.02 362.70,242.04 364.09,243.11 365.48,244.21 366.88,245.36 368.27,246.54 369.67,247.76 371.06,249.00 372.46,250.27 373.85,251.57 375.24,252.89 376.64,254.23 378.03,255.59 379.43,256.97 380.82,258.36 382.22,259.76 383.61,261.18 385.00,262.61 386.40,264.05 387.79,265.49 389.19,266.94 390.58,268.40 391.97,269.86 393.37,271.32 394.76,272.78 396.16,274.25 397.55,275.71 398.95,277.17 400.34,278.63 401.73,280.08 403.13,281.53 404.52,282.97 405.92,284.40 407.31,285.83 408.71,287.25 410.10,288.66 411.49,290.06 412.89,291.46 414.28,292.84 415.68,294.21 417.07,295.57 418.47,296.93 419.86,298.26 421.25,299.59 422.65,300.91 424.04,302.21 425.44,303.50 426.83,304.78 428.22,306.05 429.62,307.31 431.01,308.55 432.41,309.79 433.80,311.01 435.20,312.22 436.59,313.43 437.98,314.62 439.38,315.80 440.77,316.97 442.17,318.14 443.56,319.30 444.96,320.45 446.35,321.59 447.74,322.73 449.14,323.86 450.53,324.99 451.93,326.12 453.32,327.24 454.72,328.37 456.11,329.49 457.50,330.62 458.90,331.75 460.29,332.88 461.69,334.02 463.08,335.16 464.48,336.31 465.87,337.47 467.26,338.65 468.66,339.83 470.05,341.03 471.45,342.24 472.84,343.47 474.23,344.73 475.63,346.00 477.02,347.29 478.42,348.61 479.81,349.96 481.21,351.33 482.60,352.74 483.99,354.18 485.39,355.65 486.78,357.16 488.18,358.72 489.57,360.31" fill="none" stroke="#dc2a38" stroke-width="1.2"/>
<rect x="322.14" y="241.93" width="3.8" height="3.8" fill="none" stroke="#8a8a8a" stroke-width="0.65"/>
<ellipse cx="324.04" cy="236.90" rx="2.3" ry="1.9" fill="none" stroke="#ec7080" stroke-width="0.65"/>
<rect x="366.27" y="249.95" width="3.8" height="3.8" fill="none" stroke="#8a8a8a" stroke-width="0.65"/>
<ellipse cx="368.17" cy="246.44" rx="2.3" ry="1.9" fill="none" stroke="#ec7080" stroke-width="0.65"/>
<rect x="387.88" y="268.37" width="3.8" height="3.8" fill="none" stroke="#8a8a8a" stroke-width="0.65"/>
<ellipse cx="389.78" cy="267.56" rx="2.3" ry="1.9" fill="none" stroke="#ec7080" stroke-width="0.65"/>
<rect x="439.60" y="311.60" width="3.8" height="3.8" fill="none" stroke="#8a8a8a" stroke-width="0.65"/>
<ellipse cx="441.43" cy="317.52" rx="2.3" ry="1.9" fill="none" stroke="#ec7080" stroke-width="0.65"/>
<rect x="453.02" y="323.61" width="3.8" height="3.8" fill="none" stroke="#8a8a8a" stroke-width="0.65"/>
<ellipse cx="454.92" cy="328.53" rx="2.3" ry="1.9" fill="none" stroke="#ec7080" stroke-width="0.65"/>
<rect x="476.98" y="343.00" width="3.8" height="3.8" fill="none" stroke="#8a8a8a" stroke-width="0.65"/>
<ellipse cx="478.88" cy="349.05" rx="2.3" ry="1.9" fill="none" stroke="#ec7080" stroke-width="0.65"/>
<rect x="297.00" y="217.50" width="218.50" height="169.30" fill="none" stroke="#000" stroke-width="1.7"/>
<g font-size="5.0" fill="#1c1c1c" stroke="#1c1c1c" stroke-width="0.36"><rect stroke-opacity="1" x="414.30" y="222.30" width="94.50" height="58.90" fill="#fff" stroke="#bdbdbd" stroke-width="1.3"/><path d="M414.30,230.85H508.80M414.30,237.15H508.80M414.30,243.45H508.80M414.30,249.75H508.80M414.30,256.05H508.80M414.30,262.35H508.80M414.30,268.65H508.80M414.30,274.95H508.80M448.35,230.85V281.20M478.10,230.85V281.20" stroke="#ececec" stroke-width="0.55" fill="none"/><text x="462.50" y="230.10" text-anchor="middle">ANGLE4 4th order poly fit</text><text x="432.20" y="236.40" text-anchor="middle">Model</text><text x="461.90" y="236.40" text-anchor="middle">Polynomial</text><text x="416.90" y="242.70" text-anchor="start">Adj. R-Square</text><text x="454.70" y="242.70" text-anchor="start">0.9999</text><text x="462.00" y="249.00" text-anchor="middle">Value</text><text x="491.90" y="249.00" text-anchor="middle">Standard Error</text><text x="432.20" y="255.30" text-anchor="middle">Intercept</text><text x="461.50" y="255.30" text-anchor="middle">-42.76435</text><text x="492.70" y="255.30" text-anchor="middle">5.1578</text><text x="432.20" y="261.60" text-anchor="middle">B1</text><text x="461.50" y="261.60" text-anchor="middle">63.524</text><text x="492.70" y="261.60" text-anchor="middle">7.98286</text><text x="432.20" y="267.90" text-anchor="middle">B2</text><text x="461.50" y="267.90" text-anchor="middle">-34.92704</text><text x="492.70" y="267.90" text-anchor="middle">4.59469</text><text x="432.20" y="274.20" text-anchor="middle">B3</text><text x="461.50" y="274.20" text-anchor="middle">8.43471</text><text x="492.70" y="274.20" text-anchor="middle">1.16598</text><text x="432.20" y="280.50" text-anchor="middle">B4</text><text x="461.50" y="280.50" text-anchor="middle">-0.75969</text><text x="492.70" y="280.50" text-anchor="middle">0.11012</text></g>
<g font-size="5.0" fill="#1c1c1c" stroke="#1c1c1c" stroke-width="0.36"><rect stroke-opacity="1" x="301.20" y="323.20" width="104.50" height="59.30" fill="#fff" stroke="#bdbdbd" stroke-width="1.3"/><path d="M301.20,331.32H405.70M301.20,337.57H405.70M301.20,343.82H405.70M301.20,350.07H405.70M301.20,356.32H405.70M301.20,362.57H405.70M301.20,368.82H405.70M301.20,375.07H405.70M340.15,331.32V382.50M372.75,331.32V382.50" stroke="#ececec" stroke-width="0.55" fill="none"/><text x="335.10" y="330.60" text-anchor="middle">NSM 4th order poly fit</text><text x="320.60" y="336.85" text-anchor="middle">Model</text><text x="355.00" y="336.85" text-anchor="middle">Polynomial</text><text x="303.80" y="343.10" text-anchor="start">Adj. R-Square</text><text x="347.10" y="343.10" text-anchor="start">0.99992</text><text x="357.20" y="349.35" text-anchor="middle">Value</text><text x="387.90" y="349.35" text-anchor="middle">Standard Error</text><text x="320.60" y="355.60" text-anchor="middle">Intercept</text><text x="356.70" y="355.60" text-anchor="middle">-36.42804</text><text x="386.80" y="355.60" text-anchor="middle">4.0006</text><text x="320.60" y="361.85" text-anchor="middle">B1</text><text x="356.70" y="361.85" text-anchor="middle">53.99139</text><text x="386.80" y="361.85" text-anchor="middle">6.19184</text><text x="320.60" y="368.10" text-anchor="middle">B2</text><text x="356.70" y="368.10" text-anchor="middle">-29.64595</text><text x="386.80" y="368.10" text-anchor="middle">3.56383</text><text x="320.60" y="374.35" text-anchor="middle">B3</text><text x="356.70" y="374.35" text-anchor="middle">7.152</text><text x="386.80" y="374.35" text-anchor="middle">0.90439</text><text x="320.60" y="380.60" text-anchor="middle">B4</text><text x="356.70" y="380.60" text-anchor="middle">-0.64396</text><text x="386.80" y="380.60" text-anchor="middle">0.08541</text></g>
<rect x="300.50" y="298.60" width="49.90" height="20.40" fill="#fff" stroke="#a8a8a8" stroke-width="1.1"/>
<g font-size="8.1" fill="#c2102e" stroke="#c2102e" stroke-width="0.4"><text x="306.00" y="307.80">Vial D</text><text x="306.00" y="317.30">Detector D2</text></g>
<text x="136.25" y="626.30" font-size="8.2" text-anchor="middle" stroke="#000" stroke-width="0.3">Log (Energy)</text>
<text transform="translate(7.10,516.65) rotate(-90)" x="0" y="0" font-size="8.2" text-anchor="middle" stroke="#000" stroke-width="0.3">Log (Total Efficiency)</text>
<g font-size="7.3" stroke="#000" stroke-width="0.28"><text x="41.57" y="612.70" text-anchor="middle">2.0</text><text x="70.70" y="612.70" text-anchor="middle">2.2</text><text x="99.83" y="612.70" text-anchor="middle">2.4</text><text x="128.97" y="612.70" text-anchor="middle">2.6</text><text x="158.10" y="612.70" text-anchor="middle">2.8</text><text x="187.23" y="612.70" text-anchor="middle">3.0</text><text x="216.37" y="612.70" text-anchor="middle">3.2</text><text x="245.50" y="612.70" text-anchor="middle">3.4</text><text x="20.80" y="434.90" text-anchor="end">0.0</text><text x="20.80" y="459.09" text-anchor="end">-0.1</text><text x="20.80" y="483.27" text-anchor="end">-0.2</text><text x="20.80" y="507.46" text-anchor="end">-0.3</text><text x="20.80" y="531.64" text-anchor="end">-0.4</text><text x="20.80" y="555.83" text-anchor="end">-0.5</text><text x="20.80" y="580.01" text-anchor="end">-0.6</text><text x="20.80" y="604.20" text-anchor="end">-0.7</text></g>
<path d="M27.00,601.80v2M27.00,432.50v2M41.57,601.80v3.5M41.57,432.50v3.5M56.13,601.80v2M56.13,432.50v2M70.70,601.80v3.5M70.70,432.50v3.5M85.27,601.80v2M85.27,432.50v2M99.83,601.80v3.5M99.83,432.50v3.5M114.40,601.80v2M114.40,432.50v2M128.97,601.80v3.5M128.97,432.50v3.5M143.53,601.80v2M143.53,432.50v2M158.10,601.80v3.5M158.10,432.50v3.5M172.67,601.80v2M172.67,432.50v2M187.23,601.80v3.5M187.23,432.50v3.5M201.80,601.80v2M201.80,432.50v2M216.37,601.80v3.5M216.37,432.50v3.5M230.93,601.80v2M230.93,432.50v2M245.50,601.80v3.5M245.50,432.50v3.5M27.00,432.50h-3.5M245.50,432.50h-3.5M27.00,444.59h-2M245.50,444.59h-2M27.00,456.69h-3.5M245.50,456.69h-3.5M27.00,468.78h-2M245.50,468.78h-2M27.00,480.87h-3.5M245.50,480.87h-3.5M27.00,492.96h-2M245.50,492.96h-2M27.00,505.06h-3.5M245.50,505.06h-3.5M27.00,517.15h-2M245.50,517.15h-2M27.00,529.24h-3.5M245.50,529.24h-3.5M27.00,541.34h-2M245.50,541.34h-2M27.00,553.43h-3.5M245.50,553.43h-3.5M27.00,565.52h-2M245.50,565.52h-2M27.00,577.61h-3.5M245.50,577.61h-3.5M27.00,589.71h-2M245.50,589.71h-2M27.00,601.80h-3.5M245.50,601.80h-3.5" stroke="#000" stroke-width="1.2" fill="none"/>
<polyline points="53.66,458.81 55.05,458.15 56.45,457.62 57.84,457.23 59.23,456.96 60.63,456.81 62.02,456.78 63.42,456.86 64.81,457.05 66.21,457.34 67.60,457.72 68.99,458.20 70.39,458.77 71.78,459.42 73.18,460.14 74.57,460.95 75.96,461.82 77.36,462.76 78.75,463.77 80.15,464.83 81.54,465.95 82.94,467.12 84.33,468.34 85.72,469.61 87.12,470.91 88.51,472.26 89.91,473.63 91.30,475.04 92.70,476.48 94.09,477.94 95.48,479.43 96.88,480.93 98.27,482.45 99.67,483.99 101.06,485.54 102.46,487.09 103.85,488.66 105.24,490.23 106.64,491.80 108.03,493.37 109.43,494.94 110.82,496.50 112.22,498.06 113.61,499.61 115.00,501.16 116.40,502.69 117.79,504.21 119.19,505.72 120.58,507.21 121.97,508.68 123.37,510.14 124.76,511.58 126.16,513.00 127.55,514.40 128.95,515.78 130.34,517.14 131.73,518.47 133.13,519.79 134.52,521.08 135.92,522.34 137.31,523.58 138.71,524.80 140.10,525.99 141.49,527.15 142.89,528.30 144.28,529.42 145.68,530.51 147.07,531.58 148.47,532.63 149.86,533.65 151.25,534.65 152.65,535.63 154.04,536.59 155.44,537.53 156.83,538.45 158.22,539.36 159.62,540.24 161.01,541.11 162.41,541.96 163.80,542.81 165.20,543.64 166.59,544.46 167.98,545.27 169.38,546.07 170.77,546.87 172.17,547.67 173.56,548.46 174.96,549.26 176.35,550.06 177.74,550.86 179.14,551.67 180.53,552.50 181.93,553.33 183.32,554.18 184.72,555.05 186.11,555.93 187.50,556.85 188.90,557.78 190.29,558.75 191.69,559.75 193.08,560.78 194.48,561.86 195.87,562.97 197.26,564.13 198.66,565.34 200.05,566.61 201.45,567.93 202.84,569.31 204.23,570.75 205.63,572.26 207.02,573.85 208.42,575.51 209.81,577.25 211.21,579.08 212.60,580.99 213.99,583.00 215.39,585.11 216.78,587.32 218.18,589.64 219.57,592.07" fill="none" stroke="#555" stroke-width="0.7" stroke-dasharray="1,1.2"/>
<polyline points="53.66,451.27 55.05,450.72 56.45,450.31 57.84,450.01 59.23,449.84 60.63,449.78 62.02,449.83 63.42,449.98 64.81,450.23 66.21,450.58 67.60,451.03 68.99,451.56 70.39,452.17 71.78,452.87 73.18,453.64 74.57,454.49 75.96,455.41 77.36,456.39 78.75,457.44 80.15,458.54 81.54,459.71 82.94,460.92 84.33,462.18 85.72,463.49 87.12,464.85 88.51,466.24 89.91,467.67 91.30,469.13 92.70,470.63 94.09,472.15 95.48,473.70 96.88,475.28 98.27,476.87 99.67,478.49 101.06,480.11 102.46,481.76 103.85,483.41 105.24,485.08 106.64,486.75 108.03,488.43 109.43,490.11 110.82,491.79 112.22,493.47 113.61,495.15 115.00,496.83 116.40,498.50 117.79,500.16 119.19,501.81 120.58,503.46 121.97,505.09 123.37,506.71 124.76,508.32 126.16,509.91 127.55,511.49 128.95,513.05 130.34,514.59 131.73,516.12 133.13,517.62 134.52,519.10 135.92,520.57 137.31,522.01 138.71,523.43 140.10,524.83 141.49,526.20 142.89,527.55 144.28,528.88 145.68,530.19 147.07,531.47 148.47,532.73 149.86,533.97 151.25,535.18 152.65,536.37 154.04,537.54 155.44,538.69 156.83,539.81 158.22,540.91 159.62,541.99 161.01,543.05 162.41,544.09 163.80,545.12 165.20,546.12 166.59,547.11 167.98,548.08 169.38,549.04 170.77,549.98 172.17,550.91 173.56,551.83 174.96,552.74 176.35,553.63 177.74,554.53 179.14,555.41 180.53,556.29 181.93,557.17 183.32,558.05 184.72,558.93 186.11,559.81 187.50,560.70 188.90,561.59 190.29,562.50 191.69,563.41 193.08,564.34 194.48,565.28 195.87,566.24 197.26,567.22 198.66,568.23 200.05,569.25 201.45,570.31 202.84,571.40 204.23,572.52 205.63,573.68 207.02,574.88 208.42,576.12 209.81,577.40 211.21,578.74 212.60,580.13 213.99,581.57 215.39,583.07 216.78,584.63 218.18,586.25 219.57,587.95" fill="none" stroke="#dc2a38" stroke-width="1.2"/>
<rect x="52.14" y="456.72" width="3.8" height="3.8" fill="none" stroke="#8a8a8a" stroke-width="0.65"/>
<ellipse cx="54.04" cy="451.11" rx="2.3" ry="1.9" fill="none" stroke="#ec7080" stroke-width="0.65"/>
<rect x="96.27" y="480.44" width="3.8" height="3.8" fill="none" stroke="#8a8a8a" stroke-width="0.65"/>
<ellipse cx="98.17" cy="476.76" rx="2.3" ry="1.9" fill="none" stroke="#ec7080" stroke-width="0.65"/>
<rect x="117.88" y="504.45" width="3.8" height="3.8" fill="none" stroke="#8a8a8a" stroke-width="0.65"/>
<ellipse cx="119.78" cy="502.51" rx="2.3" ry="1.9" fill="none" stroke="#ec7080" stroke-width="0.65"/>
<rect x="169.53" y="545.35" width="3.8" height="3.8" fill="none" stroke="#8a8a8a" stroke-width="0.65"/>
<ellipse cx="171.43" cy="550.42" rx="2.3" ry="1.9" fill="none" stroke="#ec7080" stroke-width="0.65"/>
<rect x="183.02" y="553.27" width="3.8" height="3.8" fill="none" stroke="#8a8a8a" stroke-width="0.65"/>
<ellipse cx="184.92" cy="559.06" rx="2.3" ry="1.9" fill="none" stroke="#ec7080" stroke-width="0.65"/>
<rect x="206.98" y="574.18" width="3.8" height="3.8" fill="none" stroke="#8a8a8a" stroke-width="0.65"/>
<ellipse cx="208.88" cy="576.54" rx="2.3" ry="1.9" fill="none" stroke="#ec7080" stroke-width="0.65"/>
<rect x="27.00" y="432.50" width="218.50" height="169.30" fill="none" stroke="#000" stroke-width="1.7"/>
<g font-size="5.0" fill="#1c1c1c" stroke="#1c1c1c" stroke-width="0.36"><rect stroke-opacity="1" x="144.70" y="437.40" width="95.20" height="58.20" fill="#fff" stroke="#bdbdbd" stroke-width="1.3"/><path d="M144.70,445.18H239.90M144.70,451.52H239.90M144.70,457.88H239.90M144.70,464.22H239.90M144.70,470.57H239.90M144.70,476.92H239.90M144.70,483.27H239.90M144.70,489.62H239.90M179.30,445.18V495.60M208.80,451.53V495.60" stroke="#ececec" stroke-width="0.55" fill="none"/><text x="192.50" y="444.40" text-anchor="middle">ANGLE4 4th order poly fit</text><text x="162.40" y="450.75" text-anchor="middle">Model</text><text x="209.50" y="450.75" text-anchor="middle">Polynomial</text><text x="147.30" y="457.10" text-anchor="start">Adj. R-Square</text><text x="183.40" y="457.10" text-anchor="start">0.99959</text><text x="194.70" y="463.45" text-anchor="middle">Value</text><text x="206.50" y="463.45" text-anchor="start">Standard Erro</text><text x="162.40" y="469.80" text-anchor="middle">Intercept</text><text x="193.20" y="469.80" text-anchor="middle">-73.55973</text><text x="222.40" y="469.80" text-anchor="middle">15.37089</text><text x="162.40" y="476.15" text-anchor="middle">B1</text><text x="193.20" y="476.15" text-anchor="middle">112.07516</text><text x="222.40" y="476.15" text-anchor="middle">23.78992</text><text x="162.40" y="482.50" text-anchor="middle">B2</text><text x="193.20" y="482.50" text-anchor="middle">-63.14927</text><text x="222.40" y="482.50" text-anchor="middle">13.69275</text><text x="162.40" y="488.85" text-anchor="middle">B3</text><text x="193.20" y="488.85" text-anchor="middle">15.6031</text><text x="222.40" y="488.85" text-anchor="middle">3.47478</text><text x="162.40" y="495.20" text-anchor="middle">B4</text><text x="193.20" y="495.20" text-anchor="middle">-1.43377</text><text x="222.40" y="495.20" text-anchor="middle">0.32817</text></g>
<g font-size="5.0" fill="#1c1c1c" stroke="#1c1c1c" stroke-width="0.36"><rect stroke-opacity="1" x="30.70" y="540.50" width="85.90" height="56.10" fill="#fff" stroke="#bdbdbd" stroke-width="1.3"/><path d="M30.70,547.19H116.60M30.70,553.37H116.60M30.70,559.55H116.60M30.70,565.73H116.60M30.70,571.91H116.60M30.70,578.09H116.60M30.70,584.27H116.60M30.70,590.45H116.60M62.05,547.19V596.60M87.90,553.37V596.60" stroke="#ececec" stroke-width="0.55" fill="none"/><text x="59.70" y="546.50" text-anchor="middle">NSM 4th order poly fit</text><text x="46.60" y="552.68" text-anchor="middle">Model</text><text x="89.10" y="552.68" text-anchor="middle">Polynomial</text><text x="33.30" y="558.86" text-anchor="start">Adj. R-Squar</text><text x="66.00" y="558.86" text-anchor="start">0.99994</text><text x="76.20" y="565.04" text-anchor="middle">Value</text><text x="89.00" y="565.04" text-anchor="start">Standard Er</text><text x="46.60" y="571.22" text-anchor="middle">Intercept</text><text x="74.50" y="571.22" text-anchor="middle">-86.54733</text><text x="99.30" y="571.22" text-anchor="middle">5.23469</text><text x="46.60" y="577.40" text-anchor="middle">B1</text><text x="74.50" y="577.40" text-anchor="middle">133.33493</text><text x="99.30" y="577.40" text-anchor="middle">8.10187</text><text x="46.60" y="583.58" text-anchor="middle">B2</text><text x="74.50" y="583.58" text-anchor="middle">-76.16154</text><text x="99.30" y="583.58" text-anchor="middle">4.66319</text><text x="46.60" y="589.76" text-anchor="middle">B3</text><text x="74.50" y="589.76" text-anchor="middle">19.11924</text><text x="99.30" y="589.76" text-anchor="middle">1.18337</text><text x="46.60" y="595.94" text-anchor="middle">B4</text><text x="74.50" y="595.94" text-anchor="middle">-1.78687</text><text x="99.30" y="595.94" text-anchor="middle">0.11176</text></g>
<rect x="30.20" y="512.30" width="58.40" height="24.00" fill="#fff" stroke="#a8a8a8" stroke-width="1.1"/>
<g font-size="9.5" fill="#c2102e" stroke="#c2102e" stroke-width="0.4"><text x="36.90" y="522.50">Vial R</text><text x="36.90" y="534.10">Detector D1</text></g>
<text x="406.25" y="626.30" font-size="8.2" text-anchor="middle" stroke="#000" stroke-width="0.3">Log (Energy)</text>
<text transform="translate(277.10,516.65) rotate(-90)" x="0" y="0" font-size="8.2" text-anchor="middle" stroke="#000" stroke-width="0.3">Log (Total Efficiency)</text>
<g font-size="7.3" stroke="#000" stroke-width="0.28"><text x="311.57" y="612.70" text-anchor="middle">2.0</text><text x="340.70" y="612.70" text-anchor="middle">2.2</text><text x="369.83" y="612.70" text-anchor="middle">2.4</text><text x="398.97" y="612.70" text-anchor="middle">2.6</text><text x="428.10" y="612.70" text-anchor="middle">2.8</text><text x="457.23" y="612.70" text-anchor="middle">3.0</text><text x="486.37" y="612.70" text-anchor="middle">3.2</text><text x="515.50" y="612.70" text-anchor="middle">3.4</text><text x="290.80" y="434.90" text-anchor="end">0.0</text><text x="290.80" y="468.76" text-anchor="end">-0.1</text><text x="290.80" y="502.62" text-anchor="end">-0.2</text><text x="290.80" y="536.48" text-anchor="end">-0.3</text><text x="290.80" y="570.34" text-anchor="end">-0.4</text><text x="290.80" y="604.20" text-anchor="end">-0.5</text></g>
<path d="M297.00,601.80v2M297.00,432.50v2M311.57,601.80v3.5M311.57,432.50v3.5M326.13,601.80v2M326.13,432.50v2M340.70,601.80v3.5M340.70,432.50v3.5M355.27,601.80v2M355.27,432.50v2M369.83,601.80v3.5M369.83,432.50v3.5M384.40,601.80v2M384.40,432.50v2M398.97,601.80v3.5M398.97,432.50v3.5M413.53,601.80v2M413.53,432.50v2M428.10,601.80v3.5M428.10,432.50v3.5M442.67,601.80v2M442.67,432.50v2M457.23,601.80v3.5M457.23,432.50v3.5M471.80,601.80v2M471.80,432.50v2M486.37,601.80v3.5M486.37,432.50v3.5M500.93,601.80v2M500.93,432.50v2M515.50,601.80v3.5M515.50,432.50v3.5M297.00,432.50h-3.5M515.50,432.50h-3.5M297.00,449.43h-2M515.50,449.43h-2M297.00,466.36h-3.5M515.50,466.36h-3.5M297.00,483.29h-2M515.50,483.29h-2M297.00,500.22h-3.5M515.50,500.22h-3.5M297.00,517.15h-2M515.50,517.15h-2M297.00,534.08h-3.5M515.50,534.08h-3.5M297.00,551.01h-2M515.50,551.01h-2M297.00,567.94h-3.5M515.50,567.94h-3.5M297.00,584.87h-2M515.50,584.87h-2M297.00,601.80h-3.5M515.50,601.80h-3.5" stroke="#000" stroke-width="1.2" fill="none"/>
<polyline points="323.66,454.64 325.05,453.54 326.45,452.59 327.84,451.78 329.23,451.09 330.63,450.51 332.02,450.04 333.42,449.66 334.81,449.35 336.21,449.11 337.60,448.92 338.99,448.79 340.39,448.71 341.78,448.67 343.18,448.69 344.57,448.76 345.96,448.89 347.36,449.08 348.75,449.34 350.15,449.67 351.54,450.08 352.94,450.56 354.33,451.12 355.72,451.75 357.12,452.46 358.51,453.24 359.91,454.08 361.30,454.98 362.70,455.94 364.09,456.95 365.48,458.00 366.88,459.09 368.27,460.22 369.67,461.38 371.06,462.58 372.46,463.79 373.85,465.04 375.24,466.30 376.64,467.58 378.03,468.88 379.43,470.20 380.82,471.52 382.22,472.86 383.61,474.21 385.00,475.56 386.40,476.92 387.79,478.29 389.19,479.65 390.58,481.02 391.97,482.39 393.37,483.76 394.76,485.12 396.16,486.49 397.55,487.85 398.95,489.20 400.34,490.54 401.73,491.88 403.13,493.22 404.52,494.54 405.92,495.85 407.31,497.15 408.71,498.45 410.10,499.73 411.49,501.00 412.89,502.26 414.28,503.51 415.68,504.74 417.07,505.96 418.47,507.17 419.86,508.37 421.25,509.56 422.65,510.73 424.04,511.89 425.44,513.04 426.83,514.18 428.22,515.31 429.62,516.43 431.01,517.54 432.41,518.64 433.80,519.72 435.20,520.81 436.59,521.88 437.98,522.95 439.38,524.01 440.77,525.07 442.17,526.13 443.56,527.18 444.96,528.23 446.35,529.28 447.74,530.34 449.14,531.39 450.53,532.45 451.93,533.52 453.32,534.59 454.72,535.68 456.11,536.77 457.50,537.88 458.90,539.00 460.29,540.14 461.69,541.29 463.08,542.47 464.48,543.67 465.87,544.89 467.26,546.14 468.66,547.42 470.05,548.73 471.45,550.08 472.84,551.46 474.23,552.88 475.63,554.34 477.02,555.85 478.42,557.41 479.81,559.01 481.21,560.67 482.60,562.38 483.99,564.15 485.39,565.99 486.78,567.89 488.18,569.86 489.57,571.90" fill="none" stroke="#555" stroke-width="0.7" stroke-dasharray="1,1.2"/>
<polyline points="323.66,455.02 325.05,454.08 326.45,453.28 327.84,452.62 329.23,452.08 330.63,451.66 332.02,451.34 333.42,451.10 334.81,450.92 336.21,450.79 337.60,450.71 338.99,450.65 340.39,450.63 341.78,450.63 343.18,450.67 344.57,450.75 345.96,450.89 347.36,451.09 348.75,451.35 350.15,451.69 351.54,452.10 352.94,452.59 354.33,453.14 355.72,453.76 357.12,454.44 358.51,455.18 359.91,455.97 361.30,456.81 362.70,457.70 364.09,458.64 365.48,459.62 366.88,460.65 368.27,461.72 369.67,462.85 371.06,464.02 372.46,465.24 373.85,466.50 375.24,467.81 376.64,469.17 378.03,470.56 379.43,471.99 380.82,473.46 382.22,474.95 383.61,476.47 385.00,478.00 386.40,479.55 387.79,481.10 389.19,482.66 390.58,484.23 391.97,485.79 393.37,487.34 394.76,488.88 396.16,490.42 397.55,491.94 398.95,493.46 400.34,494.96 401.73,496.44 403.13,497.92 404.52,499.38 405.92,500.82 407.31,502.26 408.71,503.68 410.10,505.09 411.49,506.49 412.89,507.87 414.28,509.25 415.68,510.61 417.07,511.96 418.47,513.29 419.86,514.62 421.25,515.93 422.65,517.24 424.04,518.52 425.44,519.80 426.83,521.07 428.22,522.32 429.62,523.57 431.01,524.80 432.41,526.02 433.80,527.23 435.20,528.43 436.59,529.62 437.98,530.79 439.38,531.96 440.77,533.13 442.17,534.28 443.56,535.42 444.96,536.56 446.35,537.69 447.74,538.82 449.14,539.94 450.53,541.06 451.93,542.17 453.32,543.29 454.72,544.40 456.11,545.51 457.50,546.63 458.90,547.75 460.29,548.87 461.69,549.99 463.08,551.13 464.48,552.27 465.87,553.42 467.26,554.58 468.66,555.75 470.05,556.94 471.45,558.14 472.84,559.36 474.23,560.60 475.63,561.86 477.02,563.14 478.42,564.45 479.81,565.79 481.21,567.15 482.60,568.54 483.99,569.97 485.39,571.43 486.78,572.93 488.18,574.47 489.57,576.05" fill="none" stroke="#dc2a38" stroke-width="1.2"/>
<rect x="322.14" y="451.55" width="3.8" height="3.8" fill="none" stroke="#8a8a8a" stroke-width="0.65"/>
<ellipse cx="324.04" cy="454.36" rx="2.3" ry="1.9" fill="none" stroke="#ec7080" stroke-width="0.65"/>
<rect x="366.27" y="458.22" width="3.8" height="3.8" fill="none" stroke="#8a8a8a" stroke-width="0.65"/>
<ellipse cx="368.50" cy="462.20" rx="2.3" ry="1.9" fill="none" stroke="#ec7080" stroke-width="0.65"/>
<rect x="388.20" y="476.70" width="3.8" height="3.8" fill="none" stroke="#8a8a8a" stroke-width="0.65"/>
<ellipse cx="390.10" cy="483.60" rx="2.3" ry="1.9" fill="none" stroke="#ec7080" stroke-width="0.65"/>
<rect x="439.60" y="525.30" width="3.8" height="3.8" fill="none" stroke="#8a8a8a" stroke-width="0.65"/>
<ellipse cx="441.43" cy="533.67" rx="2.3" ry="1.9" fill="none" stroke="#ec7080" stroke-width="0.65"/>
<rect x="453.20" y="531.60" width="3.8" height="3.8" fill="none" stroke="#8a8a8a" stroke-width="0.65"/>
<ellipse cx="454.92" cy="544.56" rx="2.3" ry="1.9" fill="none" stroke="#ec7080" stroke-width="0.65"/>
<rect x="476.98" y="556.03" width="3.8" height="3.8" fill="none" stroke="#8a8a8a" stroke-width="0.65"/>
<ellipse cx="478.88" cy="564.89" rx="2.3" ry="1.9" fill="none" stroke="#ec7080" stroke-width="0.65"/>
<rect x="297.00" y="432.50" width="218.50" height="169.30" fill="none" stroke="#000" stroke-width="1.7"/>
<g font-size="5.0" fill="#1c1c1c" stroke="#1c1c1c" stroke-width="0.36"><rect stroke-opacity="1" x="414.30" y="437.50" width="94.10" height="59.60" fill="#fff" stroke="#bdbdbd" stroke-width="1.3"/><path d="M414.30,445.91H508.40M414.30,452.31H508.40M414.30,458.73H508.40M414.30,465.13H508.40M414.30,471.55H508.40M414.30,477.95H508.40M414.30,484.37H508.40M414.30,490.77H508.40M448.80,445.90V497.10M478.10,452.31V497.10" stroke="#ececec" stroke-width="0.55" fill="none"/><text x="461.60" y="445.10" text-anchor="middle">ANGLE4 4th order poly fit</text><text x="432.20" y="451.51" text-anchor="middle">Model</text><text x="478.80" y="451.51" text-anchor="middle">Polynomial</text><text x="416.90" y="457.92" text-anchor="start">Adj. R-Square</text><text x="453.30" y="457.92" text-anchor="start">0.9999</text><text x="462.40" y="464.33" text-anchor="middle">Value</text><text x="475.50" y="464.33" text-anchor="start">Standard Erro</text><text x="432.20" y="470.74" text-anchor="middle">Intercept</text><text x="462.40" y="470.74" text-anchor="middle">-42.48102</text><text x="491.80" y="470.74" text-anchor="middle">5.10079</text><text x="432.20" y="477.15" text-anchor="middle">B1</text><text x="462.40" y="477.15" text-anchor="middle">63.07591</text><text x="491.80" y="477.15" text-anchor="middle">7.89463</text><text x="432.20" y="483.56" text-anchor="middle">B2</text><text x="462.40" y="483.56" text-anchor="middle">-34.67416</text><text x="491.80" y="483.56" text-anchor="middle">4.54391</text><text x="432.20" y="489.97" text-anchor="middle">B3</text><text x="462.40" y="489.97" text-anchor="middle">8.37268</text><text x="491.80" y="489.97" text-anchor="middle">1.1531</text><text x="432.20" y="496.38" text-anchor="middle">B4</text><text x="462.40" y="496.38" text-anchor="middle">-0.75405</text><text x="491.80" y="496.38" text-anchor="middle">0.1089</text></g>
<g font-size="5.0" fill="#1c1c1c" stroke="#1c1c1c" stroke-width="0.36"><rect stroke-opacity="1" x="301.10" y="537.70" width="99.70" height="58.60" fill="#fff" stroke="#bdbdbd" stroke-width="1.3"/><path d="M301.10,545.44H400.80M301.10,551.74H400.80M301.10,558.02H400.80M301.10,564.31H400.80M301.10,570.61H400.80M301.10,576.89H400.80M301.10,583.18H400.80M301.10,589.48H400.80M333.75,545.44V596.30M365.70,545.44V596.30" stroke="#ececec" stroke-width="0.55" fill="none"/><text x="332.30" y="544.70" text-anchor="middle">NSM 4th order poly fit</text><text x="316.70" y="550.99" text-anchor="middle">Model</text><text x="347.90" y="550.99" text-anchor="middle">Polynomial</text><text x="303.70" y="557.28" text-anchor="start">Adj. R-Squar</text><text x="339.50" y="557.28" text-anchor="start">0.99481</text><text x="349.90" y="563.57" text-anchor="middle">Value</text><text x="381.60" y="563.57" text-anchor="middle">Standard Error</text><text x="316.70" y="569.86" text-anchor="middle">Intercept</text><text x="347.80" y="569.86" text-anchor="middle">-51.33578</text><text x="381.60" y="569.86" text-anchor="middle">33.75541</text><text x="316.70" y="576.15" text-anchor="middle">B1</text><text x="347.80" y="576.15" text-anchor="middle">77.12723</text><text x="381.60" y="576.15" text-anchor="middle">52.24412</text><text x="316.70" y="582.44" text-anchor="middle">B2</text><text x="347.80" y="582.44" text-anchor="middle">-42.9948</text><text x="381.60" y="582.44" text-anchor="middle">30.07012</text><text x="316.70" y="588.73" text-anchor="middle">B3</text><text x="347.80" y="588.73" text-anchor="middle">10.5515</text><text x="381.60" y="588.73" text-anchor="middle">7.63082</text><text x="316.70" y="595.02" text-anchor="middle">B4</text><text x="347.80" y="595.02" text-anchor="middle">-0.96659</text><text x="381.60" y="595.02" text-anchor="middle">0.72067</text></g>
<rect x="301.10" y="509.90" width="58.40" height="24.20" fill="#fff" stroke="#a8a8a8" stroke-width="1.1"/>
<g font-size="9.45" fill="#c2102e" stroke="#c2102e" stroke-width="0.4"><text x="307.80" y="520.20">Vial R</text><text x="307.80" y="532.10">Detector D2</text></g>
<rect x="310" y="649" width="178.2" height="64.8" fill="#fff" stroke="#000" stroke-width="1.7"/>
<rect x="325.8" y="657.1" width="4.3" height="4.3" fill="none" stroke="#555" stroke-width="0.85"/>
<ellipse cx="328" cy="675.6" rx="2.8" ry="2.1" fill="none" stroke="#e05060" stroke-width="0.8"/>
<line x1="314.4" y1="691" x2="340.4" y2="691" stroke="#444" stroke-width="0.9" stroke-dasharray="1,1.4"/>
<line x1="314" y1="706.3" x2="342" y2="706.3" stroke="#dc2a38" stroke-width="1.3"/>
<g font-size="12.3" letter-spacing="0.12" stroke="#000" stroke-width="0.2"><text x="345.2" y="663.60">NSM</text><text x="345.2" y="679.70">ANGLE4</text><text x="345.2" y="695.60">NSM 4th order fitting</text><text x="345.2" y="710.50">ANGLE4 4th order fitting</text></g>
</svg></body></html>
